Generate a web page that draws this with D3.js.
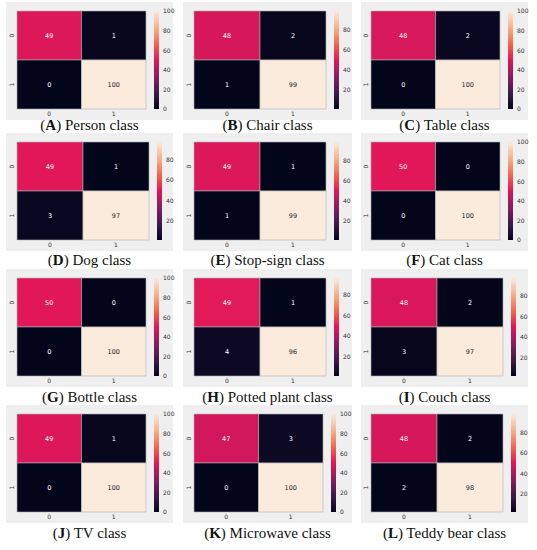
<!DOCTYPE html>
<html><head><meta charset="utf-8">
<script src="https://cdn.jsdelivr.net/npm/d3@7"></script>
<style>body{margin:0;background:#fff}svg{display:block}</style>
</head><body>
<svg id="c" width="537" height="550"></svg>
<script>
// ---- data ----
const panelLetters = ["A","B","C","D","E","F","G","H","I","J","K","L"];
const panelNames = ["Person class","Chair class","Table class","Dog class","Stop-sign class","Cat class",
  "Bottle class","Potted plant class","Couch class","TV class","Microwave class","Teddy bear class"];
const matrices = [
  [[49,1],[0,100]],
  [[48,2],[1,99]],
  [[48,2],[0,100]],
  [[49,1],[3,97]],
  [[49,1],[1,99]],
  [[50,0],[0,100]],
  [[50,0],[0,100]],
  [[49,1],[4,96]],
  [[48,2],[3,97]],
  [[49,1],[0,100]],
  [[47,3],[0,100]],
  [[48,2],[2,98]]
];
const classLabels = ["0","1"];
const colorbarTickStep = 20;
const rocketPos = [0, 0.15, 0.3, 0.5, 0.65, 0.8, 1];
const rocketCols = ["#03051a","#381a45","#7a1d5c","#e1175a","#f0604c","#f5a57e","#faebdd"];

// ---- layout ----
const svg = d3.select("#c");
const rocketScale = d3.scaleLinear().domain(rocketPos).range(rocketCols).interpolate(d3.interpolateRgb).clamp(true);
const rocket = t => rocketScale(t);
const rowTops = [11, 142, 278, 414];
const colLefts = [17, 194, 371];
const greyX = [[6,173],[183,352],[361,528]];
const hmH = 98;
const captionBase = [130, 265, 402, 538];

const defs = svg.append("defs");

matrices.forEach((m, i) => {
  const r = Math.floor(i / 3), c = i % 3;
  const flat = m.flat();
  const vmin = d3.min(flat), vmax = d3.max(flat);
  const ticks = d3.range(0, 101, colorbarTickStep).filter(t => t >= vmin && t <= vmax);
  const hasHundred = ticks.includes(100);
  const w = hasHundred ? 129 : 132;
  const left = colLefts[c], top = rowTops[r];
  const g = svg.append("g");

  // grey background
  g.append("rect").attr("x", greyX[c][0]).attr("y", top - 9)
    .attr("width", greyX[c][1] - greyX[c][0]).attr("height", hmH + 20).attr("fill", "#efefef");

  const x = d3.scaleBand().domain([0,1]).range([left, left + w]);
  const y = d3.scaleBand().domain([0,1]).range([top, top + hmH]);
  const color = d3.scaleSequential(rocket).domain([vmin, vmax]);

  const cells = [];
  m.forEach((row, ri) => row.forEach((v, ci) => cells.push({ri, ci, v})));
  g.selectAll("rect.cell").data(cells).join("rect").attr("class","cell")
    .attr("x", d => x(d.ci)).attr("y", d => y(d.ri))
    .attr("width", x.bandwidth()).attr("height", y.bandwidth())
    .attr("fill", d => color(d.v)).attr("stroke", "#b0b0b0").attr("stroke-width", 0.6);

  g.selectAll("text.ann").data(cells).join("text").attr("class","ann")
    .attr("x", d => x(d.ci) + x.bandwidth()/2).attr("y", d => y(d.ri) + y.bandwidth()/2)
    .attr("dy", "0.35em").attr("text-anchor", "middle")
    .attr("font-family", "DejaVu Sans").attr("font-size", 6.5)
    .attr("fill", d => (d3.hsl(color(d.v)).l > 0.6 ? "#262626" : "#ffffff"))
    .text(d => d.v);

  // x tick labels
  g.selectAll("text.xt").data([0,1]).join("text")
    .attr("x", d => x(d) + x.bandwidth()/2).attr("y", top + hmH + 5)
    .attr("dy", "0.35em").attr("text-anchor", "middle")
    .attr("font-family", "DejaVu Sans").attr("font-size", 6).attr("fill", "#333")
    .text(d => classLabels[d]);
  // y tick labels (rotated)
  g.selectAll("text.yt").data([0,1]).join("text")
    .attr("transform", d => `translate(${left - 5},${y(d) + y.bandwidth()/2}) rotate(-90)`)
    .attr("dy", "0.35em").attr("text-anchor", "middle")
    .attr("font-family", "DejaVu Sans").attr("font-size", 6).attr("fill", "#333")
    .text(d => classLabels[d]);

  // colorbar
  const cbX = left + w + 8, cbW = 5;
  const gid = "grad" + i;
  const grad = defs.append("linearGradient").attr("id", gid)
    .attr("x1", 0).attr("y1", 1).attr("x2", 0).attr("y2", 0);
  d3.range(0, 1.0001, 0.05).forEach(t => {
    grad.append("stop").attr("offset", t).attr("stop-color", rocket(t));
  });
  g.append("rect").attr("x", cbX).attr("y", top).attr("width", cbW).attr("height", hmH)
    .attr("fill", `url(#${gid})`);
  const cbScale = d3.scaleLinear().domain([vmin, vmax]).range([top + hmH, top]);
  const axis = d3.axisRight(cbScale).tickValues(ticks).tickSize(0).tickPadding(4);
  const ag = g.append("g").attr("transform", `translate(${cbX + cbW},0)`).call(axis);
  ag.select(".domain").remove();
  ag.selectAll("text").attr("font-family", "DejaVu Sans").attr("font-size", 6).attr("fill", "#333");

  // caption
  const cap = g.append("text").attr("x", (greyX[c][0] + greyX[c][1]) / 2).attr("y", captionBase[r])
    .attr("text-anchor", "middle").attr("font-family", "Liberation Serif").attr("font-size", 15)
    .attr("fill", "#111");
  cap.append("tspan").text("(");
  cap.append("tspan").attr("font-weight", "bold").text(panelLetters[i]);
  cap.append("tspan").text(") " + panelNames[i]);
});
</script>
</body></html>
